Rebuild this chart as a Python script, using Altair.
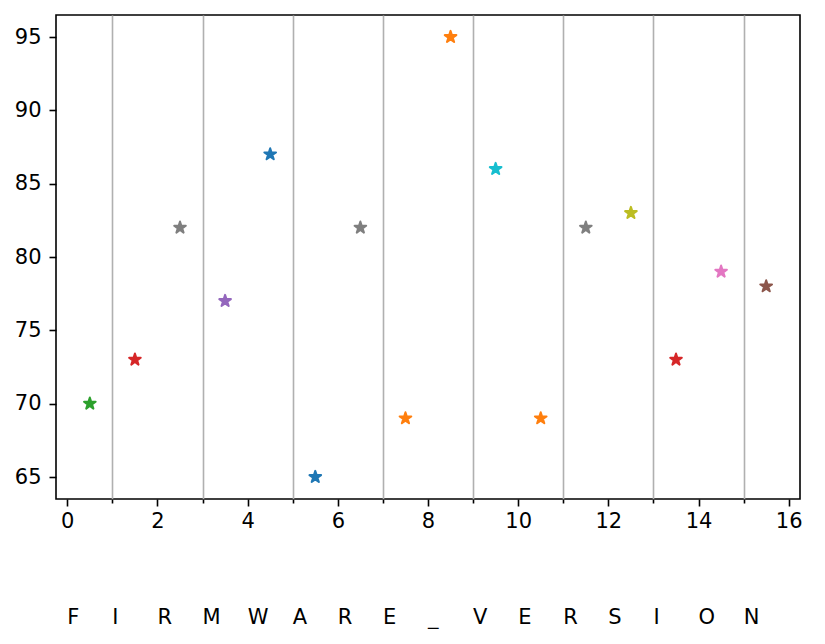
import altair as alt
import pandas as pd

# ---- data ----
x_vals = [0.5, 1.5, 2.5, 3.5, 4.5, 5.5, 6.5, 7.5, 8.5, 9.5, 10.5, 11.5, 12.5, 13.5, 14.5, 15.5]
y_vals = [70, 73, 82, 77, 87, 65, 82, 69, 95, 86, 69, 82, 83, 73, 79, 78]
point_colors = ["#2ca02c", "#d62728", "#7f7f7f", "#9467bd", "#1f77b4", "#1f77b4",
                "#7f7f7f", "#ff7f0e", "#ff7f0e", "#17becf", "#ff7f0e", "#7f7f7f",
                "#bcbd22", "#d62728", "#e377c2", "#8c564b"]
letters = ["F", "I", "R", "M", "W", "A", "R", "E", "_", "V", "E", "R", "S", "I", "O", "N"]
letter_pos = [0, 1, 2, 3, 4, 5, 6, 7, 8, 9, 10, 11, 12, 13, 14, 15]
x_ticks = [0, 1, 2, 3, 4, 5, 6, 7, 8, 9, 10, 11, 12, 13, 14, 15, 16]
y_ticks = [65, 70, 75, 80, 85, 90, 95]

points_df = pd.DataFrame({"x": x_vals, "y": y_vals, "color": point_colors})
letters_df = pd.DataFrame({"x": letter_pos, "letter": letters})

FONT = "DejaVu Sans"
STAR = ("M0,-1L0.2245,-0.309L0.9511,-0.309L0.3633,0.118L0.5878,0.809L0,0.382"
        "L-0.5878,0.809L-0.3633,0.118L-0.9511,-0.309L-0.2245,-0.309Z")

x_scale = alt.Scale(domain=[-0.25, 16.25], nice=False, zero=False)
y_scale = alt.Scale(domain=[63.5, 96.5], nice=False, zero=False)

x_axis = alt.Axis(
    values=x_ticks,
    title=None,
    labelExpr="datum.value % 2 == 0 ? datum.label : ''",
    grid=True,
    gridColor="#b0b0b0",
    gridWidth=1.6,
    gridOpacity={"condition": {"test": "datum.value % 2 == 1", "value": 1}, "value": 0},
    tickSize={"condition": {"test": "datum.value % 2 == 1", "value": 4}, "value": 7},
    tickColor="black",
    tickWidth=1.6,
    domain=False,
    labelFont=FONT,
    labelFontSize=21,
    labelColor="black",
    labelPadding=4,
    labelFlush=False,
)
y_axis = alt.Axis(
    values=y_ticks,
    title=None,
    grid=False,
    tickSize=7,
    tickColor="black",
    tickWidth=1.6,
    domain=False,
    labelFont=FONT,
    labelFontSize=21,
    labelColor="black",
    labelPadding=8,
)

points = alt.Chart(points_df).mark_point(
    shape=STAR, filled=True, size=150, opacity=1, strokeWidth=2, strokeJoin="round"
).encode(
    x=alt.X("x:Q", scale=x_scale, axis=x_axis),
    y=alt.Y("y:Q", scale=y_scale, axis=y_axis),
    color=alt.Color("color:N", scale=None),
    stroke=alt.Stroke("color:N", scale=None),
)

text = alt.Chart(letters_df).mark_text(
    align="left", baseline="alphabetic", font=FONT, fontSize=21, color="black"
).encode(
    x=alt.X("x:Q", scale=x_scale),
    y=alt.value(609),
    text="letter:N",
)

chart = alt.layer(points, text).properties(
    width=744,
    height=484,
    autosize=alt.AutoSizeParams(type="none"),
    padding={"left": 48, "top": 7, "right": 15, "bottom": 130},
).configure(
    background="white",
    view=alt.ViewConfig(stroke="black", strokeWidth=1.6),
)

chart.save("out.html", embed_options={"renderer": "svg", "actions": False})
